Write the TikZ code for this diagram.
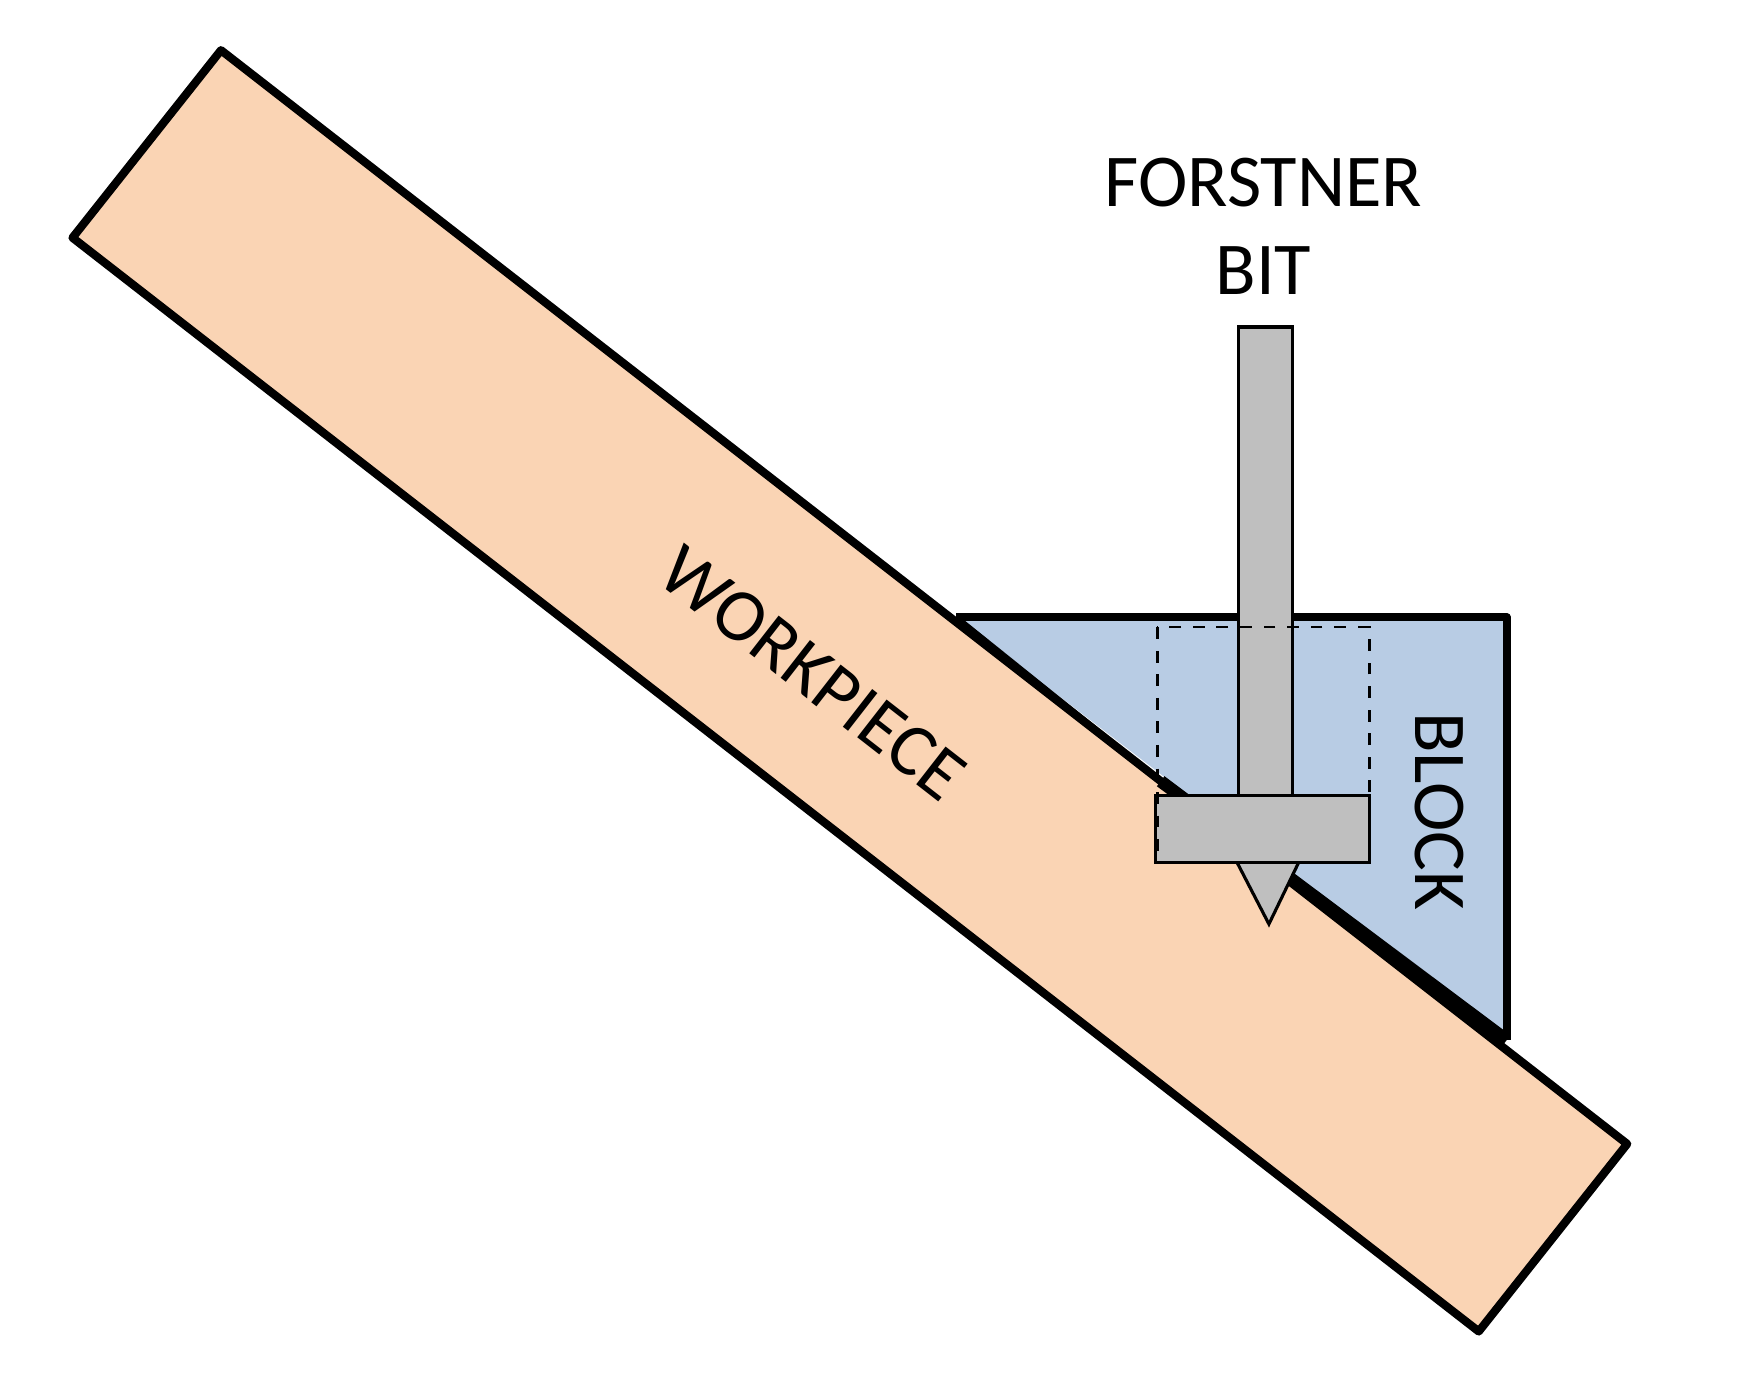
\documentclass[tikz,border=0pt]{standalone}
\usepackage{fontspec}
\setmainfont{Carlito}
\definecolor{wood}{HTML}{FAD4B4}
\definecolor{blk}{HTML}{B8CCE4}
\definecolor{steel}{HTML}{BFBFBF}
\begin{document}
\begin{tikzpicture}[x=0.01cm,y=-0.01cm,
  thick line/.style={line width=2.1pt,line join=round},
  bitpart/.style={fill=steel,draw=black,line width=0.8pt},
  lbl/.style={font=\fontsize{19}{22}\selectfont,inner sep=0pt}]
\useasboundingbox (0,0) rectangle (1560,1239);
\coordinate (w1) at (198,45);
\coordinate (w2) at (65,213);
\coordinate (w3) at (1325,1193);
\coordinate (w4) at (1458,1025);
\draw[thick line,fill=wood] (w1) -- (w2) -- (w3) -- (w4) -- cycle;
\coordinate (b1) at (857,553);
\coordinate (b2) at (1350,553);
\coordinate (b3) at (1350,932);
\fill[blk] (b1) -- (b2) -- (b3) -- cycle;
\draw[thick line] (b1) -- (b2) -- (b3);
\draw[line width=1.3pt] (b1) -- (1040,700);
\draw[line width=3.2pt] (1040,700) -- (b3);
\draw[bitpart] (1107,770) -- (1165,770) -- (1137,828) -- cycle;
\draw[bitpart] (1110,293) rectangle (1158,713);
\draw[bitpart] (1035,713) rectangle (1227,773);
\draw[dashed,line width=0.6pt] (1037,562) rectangle (1227,773);
\node[lbl] (t1) at (1132,164) {FORSTNER};
\node[lbl] (t2) at (1132,242) {BIT};
\node[lbl,rotate=-37.9] (t3) at (728,603) {WORKPIECE};
\node[lbl,rotate=-90] (t4) at (1290,727) {BLOCK};
\end{tikzpicture}
\end{document}
